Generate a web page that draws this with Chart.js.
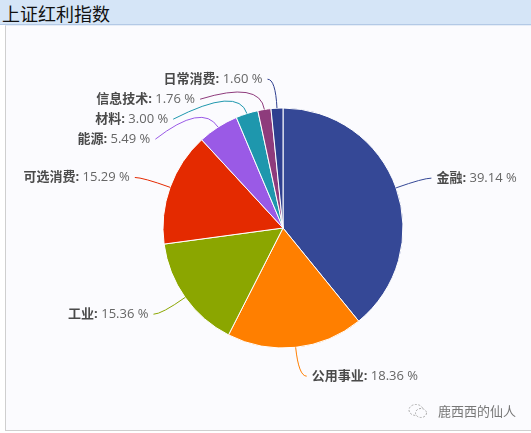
<!DOCTYPE html>
<html>
<head>
<meta charset="utf-8">
<script src="https://cdn.jsdelivr.net/npm/chart.js@4/dist/chart.umd.min.js"></script>
<style>
  body { margin: 0; background: #fff; font-family: "Microsoft YaHei", "Open Sans", "Noto Sans CJK SC", sans-serif; }
  #wrap { position: relative; width: 531px; height: 433px; overflow: hidden; }
  #title { position: absolute; left: 0; top: 0; width: 531px; height: 25px; background: #d5e5f7;
           border-bottom: 1px solid #b3c9e6; font-size: 18px; line-height: 27px; padding-left: 2px;
           color: #111; box-sizing: border-box; font-family: "Noto Sans CJK SC", sans-serif; }
  #panel { position: absolute; left: 5px; top: 25px; width: 526px; height: 406px; background: #fbfbfe;
           border-left: 1px solid #cfcfcf; border-bottom: 1px solid #cfcfcf; border-top: 1px solid #e6edf7;
           box-sizing: border-box; }
  #pie { position: absolute; left: 0; top: 0; }
  #mark { position: absolute; left: 408px; top: 401px; font-size: 13px; color: #777; display: flex; align-items: center; }
  #mark svg { margin-right: 10px; }
</style>
</head>
<body>
<div id="wrap">
  <div id="title">上证红利指数</div>
  <div id="panel"></div>
  <canvas id="pie" width="531" height="433"></canvas>
  <div id="mark">
    <svg width="20" height="16" viewBox="0 0 20 16">
      <ellipse cx="8" cy="7" rx="7" ry="5.5" fill="none" stroke="#aaa" stroke-dasharray="2 1.5"/>
      <ellipse cx="13" cy="10" rx="5.5" ry="4.5" fill="#fbfbfe" stroke="#aaa" stroke-dasharray="2 1.5"/>
    </svg>
    <span>鹿西西的仙人</span>
  </div>
</div>
<script>
// --- data ---
const categories = ['金融', '公用事业', '工业', '可选消费', '能源', '材料', '信息技术', '日常消费'];
const weights = [39.14, 18.36, 15.36, 15.29, 5.49, 3.00, 1.76, 1.60];
const sliceColors = ['#354896', '#ff7f00', '#8ba600', '#e42a00', '#9a5ae6', '#1e97ad', '#8e3b7c', '#2e3f8f'];

const FONT = '"Microsoft YaHei", "Open Sans", "Noto Sans CJK SC", sans-serif';
const LEN1 = 29;      // radial part of the leader line
const LEN2 = 8;       // horizontal part
const LINE_GAP = 20;  // min vertical distance between labels on one side

// --- leader lines + labels, echarts style ---
const pieLabels = {
  id: 'pieLabels',
  afterDatasetsDraw(chart) {
    const ctx = chart.ctx;
    const arcs = chart.getDatasetMeta(0).data;
    const items = arcs.map((arc, i) => {
      const p = arc.getProps(['x', 'y', 'startAngle', 'endAngle', 'outerRadius']);
      const mid = (p.startAngle + p.endAngle) / 2;
      const cos = Math.cos(mid), sin = Math.sin(mid);
      return {
        i, cx: p.x, cy: p.y, r: p.outerRadius,
        x1: p.x + cos * p.outerRadius, y1: p.y + sin * p.outerRadius,
        x2: p.x + cos * (p.outerRadius + LEN1), y2: p.y + sin * (p.outerRadius + LEN1),
        right: cos >= 0
      };
    });

    // push overlapping labels down, then slide them along the outer ring
    [true, false].forEach(side => {
      const list = items.filter(it => it.right === side).sort((a, b) => a.y2 - b.y2);
      let prev = -Infinity;
      list.forEach(it => {
        it.y3 = Math.max(it.y2, prev + LINE_GAP);
        prev = it.y3;
        let x = it.x2;
        if (it.y3 !== it.y2) {
          const R = it.r + LEN1, dy = it.y3 - it.cy;
          const dx = Math.sqrt(Math.max(R * R - dy * dy, 0));
          x = side ? Math.max(it.cx + dx, it.x2) : Math.min(it.cx - dx, it.x2);
        }
        it.x3 = x + (side ? LEN2 : -LEN2);
      });
    });

    ctx.save();
    items.forEach(it => {
      const color = sliceColors[it.i];
      ctx.strokeStyle = color;
      ctx.lineWidth = 1;
      ctx.beginPath();
      ctx.moveTo(it.x1, it.y1);
      ctx.quadraticCurveTo(it.x2, it.y2, it.x3, it.y3);
      ctx.stroke();

      const name = categories[it.i] + ':';
      const val = ' ' + weights[it.i].toFixed(2) + ' %';
      ctx.textBaseline = 'middle';
      ctx.textAlign = 'left';
      ctx.font = 'bold 13px ' + FONT;
      const wName = ctx.measureText(name).width;
      ctx.font = '13px ' + FONT;
      const wVal = ctx.measureText(val).width;
      const x0 = it.right ? it.x3 + 5 : it.x3 - 5 - wName - wVal;
      ctx.font = 'bold 13px ' + FONT;
      ctx.fillStyle = '#4a4a4a';
      ctx.fillText(name, x0, it.y3);
      ctx.font = '13px ' + FONT;
      ctx.fillStyle = '#666';
      ctx.fillText(val, x0 + wName, it.y3);
    });
    ctx.restore();
  }
};

const ctx = document.getElementById('pie').getContext('2d');
new Chart(ctx, {
  type: 'pie',
  data: {
    labels: categories,
    datasets: [{
      data: weights,
      backgroundColor: sliceColors,
      borderColor: '#ffffff',
      borderWidth: 1
    }]
  },
  options: {
    responsive: false,
    animation: false,
    radius: 120,
    layout: { padding: { left: 135, right: 100, top: 83, bottom: 60 } },
    plugins: { legend: { display: false }, tooltip: { enabled: false } }
  },
  plugins: [pieLabels]
});
</script>
</body>
</html>
